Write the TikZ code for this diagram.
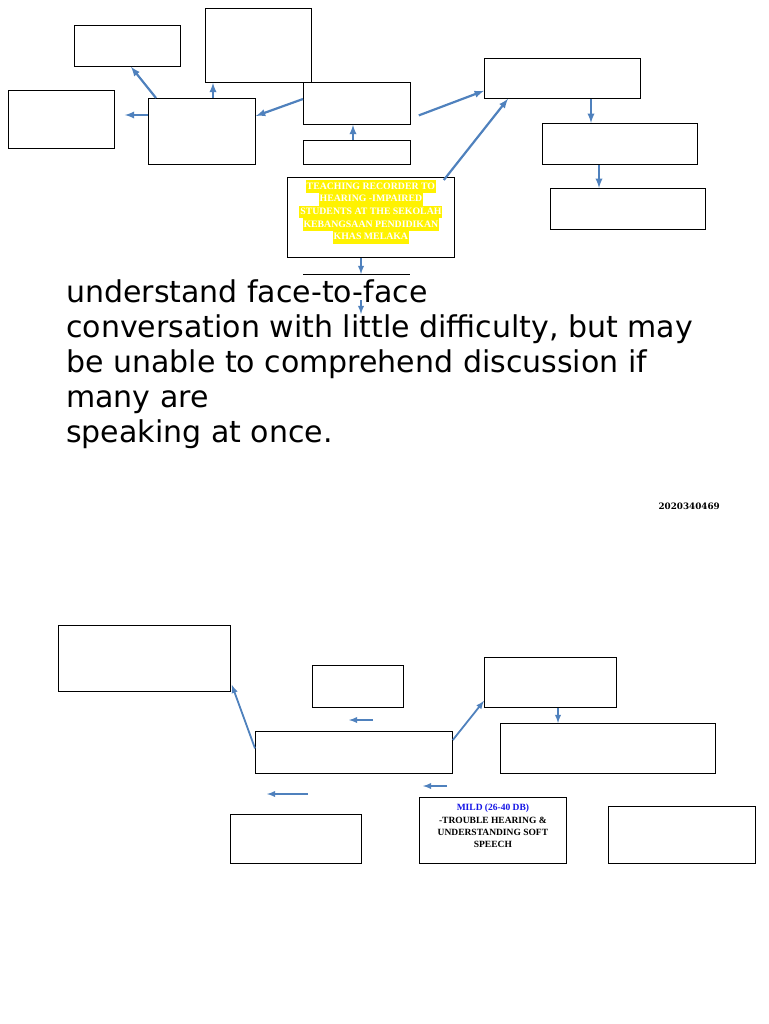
\documentclass[tikz,border=0pt]{standalone}
\usepackage{fontspec}
\usepackage{xcolor}
\usepackage{tikz}
\usetikzlibrary{positioning}
\usetikzlibrary{arrows}
\usetikzlibrary{calc, shadows}
\setmainfont{Liberation Serif}
\newfontfamily\bodyfont{DejaVu Sans}
\newfontfamily\numfont{DejaVu Serif}
\definecolor{linkblue}{RGB}{79,129,189}
\definecolor{mildblue}{RGB}{20,20,230}
\newcommand{\hilite}[1]{{\setlength\fboxsep{0pt}\colorbox{yellow}{\strut\hspace{1pt}#1\hspace{1pt}}}}

\begin{document}
\begin{tikzpicture}[x=1pt, y=-1pt,
		blankbox/.style={draw, thick, anchor=north west, inner sep=0pt, fill=white,
			drop shadow={shadow xshift=0.9pt, shadow yshift=-0.9pt, opacity=0.35}},
		link/.style={->, >=latex, draw=linkblue, line width=2.2pt},
		thinlink/.style={link, line width=1.8pt},
		boxtext/.style={align=center, font=\bfseries\fontsize{9.5}{12.2}\selectfont}
	]
	\useasboundingbox (0,0) rectangle (768,1024);
	
	%top map
	\node[blankbox, minimum width=106pt, minimum height=41pt] (a) at (74,25) {};
	\node[blankbox, minimum width=106pt, minimum height=74pt] (b) at (205,8) {};
	\node[blankbox, minimum width=106pt, minimum height=58pt] (c) at (8,90) {};
	\node[blankbox, minimum width=107pt, minimum height=66pt] (d) at (148,98) {};
	\node[blankbox, minimum width=107pt, minimum height=42pt] (e) at (303,82) {};
	\node[blankbox, minimum width=107pt, minimum height=24pt] (f) at (303,140) {};
	\node[blankbox, minimum width=167pt, minimum height=80pt,
		label={[boxtext, text=white, anchor=north, yshift=-3pt, inner sep=0pt,
			font=\bfseries\fontsize{9.8}{12.7}\selectfont]north:{\hilite{TEACHING RECORDER TO}\\
			\hilite{HEARING -IMPAIRED}\\ \hilite{STUDENTS AT THE SEKOLAH}\\
			\hilite{KEBANGSAAN PENDIDIKAN}\\ \hilite{KHAS MELAKA}}}] (g) at (287,177) {};
	\node[blankbox, minimum width=156pt, minimum height=40pt] (h) at (484,58) {};
	\node[blankbox, minimum width=155pt, minimum height=41pt] (i) at (542,123) {};
	\node[blankbox, minimum width=155pt, minimum height=41pt] (j) at (550,188) {};
	
	\draw[link] ($(d.north west)+(8,0)$) -- ($(a.south west)+(57,0)$);
	\draw[link] ($(d.north west)+(65,0)$) -- ($(b.south west)+(8,0)$);
	\draw[link] ($(d.north west)+(0,17)$) -- ($(c.north east)+(10,25)$);
	\draw[link] ($(e.north west)+(0,17)$) -- ($(d.north east)+(0,18)$);
	\draw[link] ($(f.north west)+(50,0)$) -- ($(e.south west)+(50,0)$);
	\draw[link] ($(e.east)+(8,12)$) -- ($(h.south west)+(0,-8)$);
	\draw[link] ($(g.north east)+(-11,3)$) -- ($(h.south west)+(24,0)$);
	\draw[link] ($(h.south west)+(107,0)$) -- ($(i.north west)+(49,0)$);
	\draw[link] ($(i.south west)+(57,0)$) -- ($(j.north west)+(49,0)$);
	
	% below the title box
	\coordinate (gtip) at (361,274);
	\coordinate (stub) at (361,300);
	\coordinate (stubtip) at (361,314);
	\draw[thick] (303,274) -- (410,274);
	\draw[thinlink] ($(g.south west)+(74,0)$) -- (gtip);
	
	\node[anchor=base west, align=left, inner sep=0pt, font=\bodyfont\fontsize{30}{35}\selectfont]
		(body) at (66,442) {understand face-to-face\\
		conversation with little difficulty, but may\\
		be unable to comprehend discussion if\\
		many are\\
		speaking at once.};
	\draw[thinlink] (stub) -- (stubtip);
	
	\node[anchor=east, inner sep=0pt, font=\numfont\bfseries\fontsize{8.8}{10}\selectfont] (num) at (720,506) {2020340469};
	
	%bottom map
	\node[blankbox, minimum width=172pt, minimum height=66pt] (k) at (58,625) {};
	\node[blankbox, minimum width=91pt, minimum height=42pt] (l) at (312,665) {};
	\node[blankbox, minimum width=197pt, minimum height=42pt] (m) at (255,731) {};
	\node[blankbox, minimum width=132pt, minimum height=50pt] (n) at (484,657) {};
	\node[blankbox, minimum width=215pt, minimum height=50pt] (o) at (500,723) {};
	\node[blankbox, minimum width=147pt, minimum height=66pt,
		label={[boxtext, anchor=north, yshift=-7pt, inner sep=0pt]north:{\textcolor{mildblue}{MILD (26-40 DB)}\\
			-TROUBLE HEARING \&\\ UNDERSTANDING SOFT\\ SPEECH}}] (p) at (419,797) {};
	\node[blankbox, minimum width=131pt, minimum height=49pt] (q) at (230,814) {};
	\node[blankbox, minimum width=147pt, minimum height=57pt] (r) at (608,806) {};
	
	\draw[thinlink] ($(m.west)+(0,-4)$) -- ($(k.south east)+(1,-7)$);
	\draw[thinlink] ($(m.north east)+(0,9)$) -- ($(n.south west)+(0,-7)$);
	\draw[thinlink] ($(n.south west)+(74,0)$) -- ($(o.north west)+(58,0)$);
	
	% loose arrows
	\coordinate (la1) at (373,720);
	\coordinate (la1tip) at (349,720);
	\coordinate (la2) at (308,794);
	\coordinate (la2tip) at (267,794);
	\coordinate (la3) at (447,786);
	\coordinate (la3tip) at (423,786);
	\draw[thinlink] (la1) -- (la1tip);
	\draw[thinlink] (la2) -- (la2tip);
	\draw[thinlink] (la3) -- (la3tip);
\end{tikzpicture}
\end{document}
